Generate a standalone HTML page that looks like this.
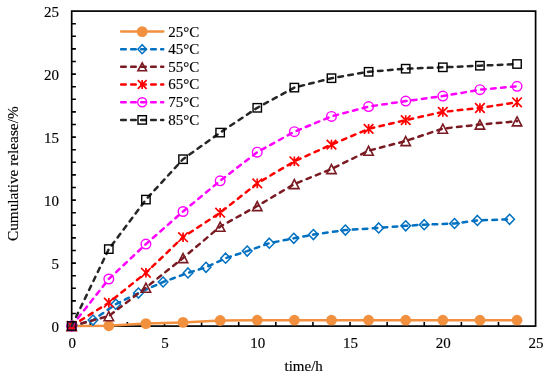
<!DOCTYPE html>
<html><head><meta charset="utf-8"><style>
html,body{margin:0;padding:0;background:#fff;}
svg{display:block;}
text{font-family:"Liberation Serif","Times New Roman",serif;font-size:15px;fill:#000;stroke:#000;stroke-width:0.15px;}
</style></head><body>
<svg width="550" height="377" viewBox="0 0 550 377">
<rect x="71.70" y="11.1" width="463.90" height="315.00" fill="none" stroke="#000" stroke-width="1.7"/>
<path d="M71.70 313.50h4.2 M71.70 300.90h4.2 M71.70 288.30h4.2 M71.70 275.70h4.2 M71.70 263.10h4.2 M71.70 250.50h4.2 M71.70 237.90h4.2 M71.70 225.30h4.2 M71.70 212.70h4.2 M71.70 200.10h4.2 M71.70 187.50h4.2 M71.70 174.90h4.2 M71.70 162.30h4.2 M71.70 149.70h4.2 M71.70 137.10h4.2 M71.70 124.50h4.2 M71.70 111.90h4.2 M71.70 99.30h4.2 M71.70 86.70h4.2 M71.70 74.10h4.2 M71.70 61.50h4.2 M71.70 48.90h4.2 M71.70 36.30h4.2 M71.70 23.70h4.2 M90.26 326.10v-4 M108.81 326.10v-4 M127.37 326.10v-4 M145.92 326.10v-4 M164.48 326.10v-4 M183.04 326.10v-4 M201.59 326.10v-4 M220.15 326.10v-4 M238.70 326.10v-4 M257.26 326.10v-4 M275.82 326.10v-4 M294.37 326.10v-4 M312.93 326.10v-4 M331.48 326.10v-4 M350.04 326.10v-4 M368.60 326.10v-4 M387.15 326.10v-4 M405.71 326.10v-4 M424.26 326.10v-4 M442.82 326.10v-4 M461.38 326.10v-4 M479.93 326.10v-4 M498.49 326.10v-4 M517.04 326.10v-4" stroke="#000" stroke-width="1.6" fill="none"/>
<text x="59.1" y="331.50" text-anchor="end">0</text>
<text x="59.1" y="268.50" text-anchor="end">5</text>
<text x="59.1" y="205.50" text-anchor="end">10</text>
<text x="59.1" y="142.50" text-anchor="end">15</text>
<text x="59.1" y="79.50" text-anchor="end">20</text>
<text x="59.1" y="16.50" text-anchor="end">25</text>
<text x="72.20" y="348.30" text-anchor="middle">0</text>
<text x="164.98" y="348.30" text-anchor="middle">5</text>
<text x="257.76" y="348.30" text-anchor="middle">10</text>
<text x="350.54" y="348.30" text-anchor="middle">15</text>
<text x="443.32" y="348.30" text-anchor="middle">20</text>
<text x="536.10" y="348.30" text-anchor="middle">25</text>
<text x="303.7" y="371.2" text-anchor="middle">time/h</text>
<text transform="translate(18.2 173.7) rotate(-90)" text-anchor="middle" style="font-size:15.3px">Cumulative release/%</text>
<path d="M71.70 326.00 L108.81 325.80 L145.92 323.60 L183.04 322.40 L220.15 320.50 L257.26 320.20 L294.37 320.20 L331.48 320.20 L368.60 320.20 L405.71 320.20 L442.82 320.20 L479.93 320.20 L517.04 320.20" fill="none" stroke="#F1903F" stroke-width="2.5" stroke-linecap="round" stroke-linejoin="round"/>
<circle cx="71.70" cy="326.00" r="5.4" fill="#F1903F"/>
<circle cx="108.81" cy="325.80" r="5.4" fill="#F1903F"/>
<circle cx="145.92" cy="323.60" r="5.4" fill="#F1903F"/>
<circle cx="183.04" cy="322.40" r="5.4" fill="#F1903F"/>
<circle cx="220.15" cy="320.50" r="5.4" fill="#F1903F"/>
<circle cx="257.26" cy="320.20" r="5.4" fill="#F1903F"/>
<circle cx="294.37" cy="320.20" r="5.4" fill="#F1903F"/>
<circle cx="331.48" cy="320.20" r="5.4" fill="#F1903F"/>
<circle cx="368.60" cy="320.20" r="5.4" fill="#F1903F"/>
<circle cx="405.71" cy="320.20" r="5.4" fill="#F1903F"/>
<circle cx="442.82" cy="320.20" r="5.4" fill="#F1903F"/>
<circle cx="479.93" cy="320.20" r="5.4" fill="#F1903F"/>
<circle cx="517.04" cy="320.20" r="5.4" fill="#F1903F"/>
<path d="M71.70 326.00 L93.00 320.10 L115.80 304.20 L138.40 293.10 L163.10 282.00 L188.00 272.90 L206.00 267.30 L225.60 258.20 L247.20 251.10 L269.30 243.20 L293.80 238.30 L313.40 234.60 L345.40 230.10 L378.70 227.90 L405.70 225.80 L424.20 224.70 L454.50 223.50 L477.40 220.40 L509.60 219.30" fill="none" stroke="#0070C0" stroke-width="2.5" stroke-linecap="round" stroke-linejoin="round" stroke-dasharray="4.6 5.4"/>
<path d="M71.70 321.00L76.50 326.00L71.70 331.00L66.90 326.00Z" fill="none" stroke="#0070C0" stroke-width="1.5"/>
<path d="M93.00 315.10L97.80 320.10L93.00 325.10L88.20 320.10Z" fill="none" stroke="#0070C0" stroke-width="1.5"/>
<path d="M115.80 299.20L120.60 304.20L115.80 309.20L111.00 304.20Z" fill="none" stroke="#0070C0" stroke-width="1.5"/>
<path d="M138.40 288.10L143.20 293.10L138.40 298.10L133.60 293.10Z" fill="none" stroke="#0070C0" stroke-width="1.5"/>
<path d="M163.10 277.00L167.90 282.00L163.10 287.00L158.30 282.00Z" fill="none" stroke="#0070C0" stroke-width="1.5"/>
<path d="M188.00 267.90L192.80 272.90L188.00 277.90L183.20 272.90Z" fill="none" stroke="#0070C0" stroke-width="1.5"/>
<path d="M206.00 262.30L210.80 267.30L206.00 272.30L201.20 267.30Z" fill="none" stroke="#0070C0" stroke-width="1.5"/>
<path d="M225.60 253.20L230.40 258.20L225.60 263.20L220.80 258.20Z" fill="none" stroke="#0070C0" stroke-width="1.5"/>
<path d="M247.20 246.10L252.00 251.10L247.20 256.10L242.40 251.10Z" fill="none" stroke="#0070C0" stroke-width="1.5"/>
<path d="M269.30 238.20L274.10 243.20L269.30 248.20L264.50 243.20Z" fill="none" stroke="#0070C0" stroke-width="1.5"/>
<path d="M293.80 233.30L298.60 238.30L293.80 243.30L289.00 238.30Z" fill="none" stroke="#0070C0" stroke-width="1.5"/>
<path d="M313.40 229.60L318.20 234.60L313.40 239.60L308.60 234.60Z" fill="none" stroke="#0070C0" stroke-width="1.5"/>
<path d="M345.40 225.10L350.20 230.10L345.40 235.10L340.60 230.10Z" fill="none" stroke="#0070C0" stroke-width="1.5"/>
<path d="M378.70 222.90L383.50 227.90L378.70 232.90L373.90 227.90Z" fill="none" stroke="#0070C0" stroke-width="1.5"/>
<path d="M405.70 220.80L410.50 225.80L405.70 230.80L400.90 225.80Z" fill="none" stroke="#0070C0" stroke-width="1.5"/>
<path d="M424.20 219.70L429.00 224.70L424.20 229.70L419.40 224.70Z" fill="none" stroke="#0070C0" stroke-width="1.5"/>
<path d="M454.50 218.50L459.30 223.50L454.50 228.50L449.70 223.50Z" fill="none" stroke="#0070C0" stroke-width="1.5"/>
<path d="M477.40 215.40L482.20 220.40L477.40 225.40L472.60 220.40Z" fill="none" stroke="#0070C0" stroke-width="1.5"/>
<path d="M509.60 214.30L514.40 219.30L509.60 224.30L504.80 219.30Z" fill="none" stroke="#0070C0" stroke-width="1.5"/>
<path d="M71.70 326.00 L108.81 316.10 L145.92 287.60 L183.04 258.00 L220.15 226.60 L257.26 206.00 L294.37 184.00 L331.48 169.00 L368.60 150.70 L405.71 141.00 L442.82 128.60 L479.93 124.50 L517.04 121.30" fill="none" stroke="#7A1A22" stroke-width="2.5" stroke-linecap="round" stroke-linejoin="round" stroke-dasharray="4.6 5.4"/>
<path d="M71.70 321.60L76.40 330.60L67.00 330.60Z" fill="none" stroke="#7A1A22" stroke-width="1.6" stroke-linejoin="miter"/>
<path d="M108.81 311.70L113.51 320.70L104.11 320.70Z" fill="none" stroke="#7A1A22" stroke-width="1.6" stroke-linejoin="miter"/>
<path d="M145.92 283.20L150.62 292.20L141.22 292.20Z" fill="none" stroke="#7A1A22" stroke-width="1.6" stroke-linejoin="miter"/>
<path d="M183.04 253.60L187.74 262.60L178.34 262.60Z" fill="none" stroke="#7A1A22" stroke-width="1.6" stroke-linejoin="miter"/>
<path d="M220.15 222.20L224.85 231.20L215.45 231.20Z" fill="none" stroke="#7A1A22" stroke-width="1.6" stroke-linejoin="miter"/>
<path d="M257.26 201.60L261.96 210.60L252.56 210.60Z" fill="none" stroke="#7A1A22" stroke-width="1.6" stroke-linejoin="miter"/>
<path d="M294.37 179.60L299.07 188.60L289.67 188.60Z" fill="none" stroke="#7A1A22" stroke-width="1.6" stroke-linejoin="miter"/>
<path d="M331.48 164.60L336.18 173.60L326.78 173.60Z" fill="none" stroke="#7A1A22" stroke-width="1.6" stroke-linejoin="miter"/>
<path d="M368.60 146.30L373.30 155.30L363.90 155.30Z" fill="none" stroke="#7A1A22" stroke-width="1.6" stroke-linejoin="miter"/>
<path d="M405.71 136.60L410.41 145.60L401.01 145.60Z" fill="none" stroke="#7A1A22" stroke-width="1.6" stroke-linejoin="miter"/>
<path d="M442.82 124.20L447.52 133.20L438.12 133.20Z" fill="none" stroke="#7A1A22" stroke-width="1.6" stroke-linejoin="miter"/>
<path d="M479.93 120.10L484.63 129.10L475.23 129.10Z" fill="none" stroke="#7A1A22" stroke-width="1.6" stroke-linejoin="miter"/>
<path d="M517.04 116.90L521.74 125.90L512.34 125.90Z" fill="none" stroke="#7A1A22" stroke-width="1.6" stroke-linejoin="miter"/>
<path d="M71.70 326.00 L108.81 302.70 L145.92 272.80 L183.04 237.20 L220.15 212.70 L257.26 183.40 L294.37 161.30 L331.48 144.60 L368.60 128.90 L405.71 120.10 L442.82 111.90 L479.93 108.00 L517.04 102.30" fill="none" stroke="#FF0000" stroke-width="2.5" stroke-linecap="round" stroke-linejoin="round" stroke-dasharray="4.6 5.4"/>
<path d="M66.90 321.20L76.50 330.80M76.50 321.20L66.90 330.80M71.70 321.20L71.70 330.80" stroke="#FF0000" stroke-width="1.7" fill="none"/>
<path d="M104.01 297.90L113.61 307.50M113.61 297.90L104.01 307.50M108.81 297.90L108.81 307.50" stroke="#FF0000" stroke-width="1.7" fill="none"/>
<path d="M141.12 268.00L150.72 277.60M150.72 268.00L141.12 277.60M145.92 268.00L145.92 277.60" stroke="#FF0000" stroke-width="1.7" fill="none"/>
<path d="M178.24 232.40L187.84 242.00M187.84 232.40L178.24 242.00M183.04 232.40L183.04 242.00" stroke="#FF0000" stroke-width="1.7" fill="none"/>
<path d="M215.35 207.90L224.95 217.50M224.95 207.90L215.35 217.50M220.15 207.90L220.15 217.50" stroke="#FF0000" stroke-width="1.7" fill="none"/>
<path d="M252.46 178.60L262.06 188.20M262.06 178.60L252.46 188.20M257.26 178.60L257.26 188.20" stroke="#FF0000" stroke-width="1.7" fill="none"/>
<path d="M289.57 156.50L299.17 166.10M299.17 156.50L289.57 166.10M294.37 156.50L294.37 166.10" stroke="#FF0000" stroke-width="1.7" fill="none"/>
<path d="M326.68 139.80L336.28 149.40M336.28 139.80L326.68 149.40M331.48 139.80L331.48 149.40" stroke="#FF0000" stroke-width="1.7" fill="none"/>
<path d="M363.80 124.10L373.40 133.70M373.40 124.10L363.80 133.70M368.60 124.10L368.60 133.70" stroke="#FF0000" stroke-width="1.7" fill="none"/>
<path d="M400.91 115.30L410.51 124.90M410.51 115.30L400.91 124.90M405.71 115.30L405.71 124.90" stroke="#FF0000" stroke-width="1.7" fill="none"/>
<path d="M438.02 107.10L447.62 116.70M447.62 107.10L438.02 116.70M442.82 107.10L442.82 116.70" stroke="#FF0000" stroke-width="1.7" fill="none"/>
<path d="M475.13 103.20L484.73 112.80M484.73 103.20L475.13 112.80M479.93 103.20L479.93 112.80" stroke="#FF0000" stroke-width="1.7" fill="none"/>
<path d="M512.24 97.50L521.84 107.10M521.84 97.50L512.24 107.10M517.04 97.50L517.04 107.10" stroke="#FF0000" stroke-width="1.7" fill="none"/>
<path d="M71.70 326.00 L108.81 279.00 L145.92 244.10 L183.04 211.50 L220.15 180.80 L257.26 152.20 L294.37 131.70 L331.48 116.40 L368.60 106.60 L405.71 101.10 L442.82 96.10 L479.93 89.70 L517.04 86.30" fill="none" stroke="#FF00FF" stroke-width="2.5" stroke-linecap="round" stroke-linejoin="round" stroke-dasharray="4.6 5.4"/>
<circle cx="71.70" cy="326.00" r="4.8" fill="none" stroke="#FF00FF" stroke-width="1.4"/>
<circle cx="108.81" cy="279.00" r="4.8" fill="none" stroke="#FF00FF" stroke-width="1.4"/>
<circle cx="145.92" cy="244.10" r="4.8" fill="none" stroke="#FF00FF" stroke-width="1.4"/>
<circle cx="183.04" cy="211.50" r="4.8" fill="none" stroke="#FF00FF" stroke-width="1.4"/>
<circle cx="220.15" cy="180.80" r="4.8" fill="none" stroke="#FF00FF" stroke-width="1.4"/>
<circle cx="257.26" cy="152.20" r="4.8" fill="none" stroke="#FF00FF" stroke-width="1.4"/>
<circle cx="294.37" cy="131.70" r="4.8" fill="none" stroke="#FF00FF" stroke-width="1.4"/>
<circle cx="331.48" cy="116.40" r="4.8" fill="none" stroke="#FF00FF" stroke-width="1.4"/>
<circle cx="368.60" cy="106.60" r="4.8" fill="none" stroke="#FF00FF" stroke-width="1.4"/>
<circle cx="405.71" cy="101.10" r="4.8" fill="none" stroke="#FF00FF" stroke-width="1.4"/>
<circle cx="442.82" cy="96.10" r="4.8" fill="none" stroke="#FF00FF" stroke-width="1.4"/>
<circle cx="479.93" cy="89.70" r="4.8" fill="none" stroke="#FF00FF" stroke-width="1.4"/>
<circle cx="517.04" cy="86.30" r="4.8" fill="none" stroke="#FF00FF" stroke-width="1.4"/>
<path d="M71.70 326.00 L108.81 249.10 L145.92 199.60 L183.04 159.20 L220.15 132.60 L257.26 107.80 L294.37 87.60 L331.48 78.20 L368.60 71.80 L405.71 68.70 L442.82 67.30 L479.93 65.70 L517.04 64.00" fill="none" stroke="#262626" stroke-width="2.5" stroke-linecap="round" stroke-linejoin="round" stroke-dasharray="4.6 5.4"/>
<rect x="67.50" y="321.80" width="8.40" height="8.40" fill="none" stroke="#000" stroke-width="1.4"/>
<rect x="104.61" y="244.90" width="8.40" height="8.40" fill="none" stroke="#000" stroke-width="1.4"/>
<rect x="141.72" y="195.40" width="8.40" height="8.40" fill="none" stroke="#000" stroke-width="1.4"/>
<rect x="178.84" y="155.00" width="8.40" height="8.40" fill="none" stroke="#000" stroke-width="1.4"/>
<rect x="215.95" y="128.40" width="8.40" height="8.40" fill="none" stroke="#000" stroke-width="1.4"/>
<rect x="253.06" y="103.60" width="8.40" height="8.40" fill="none" stroke="#000" stroke-width="1.4"/>
<rect x="290.17" y="83.40" width="8.40" height="8.40" fill="none" stroke="#000" stroke-width="1.4"/>
<rect x="327.28" y="74.00" width="8.40" height="8.40" fill="none" stroke="#000" stroke-width="1.4"/>
<rect x="364.40" y="67.60" width="8.40" height="8.40" fill="none" stroke="#000" stroke-width="1.4"/>
<rect x="401.51" y="64.50" width="8.40" height="8.40" fill="none" stroke="#000" stroke-width="1.4"/>
<rect x="438.62" y="63.10" width="8.40" height="8.40" fill="none" stroke="#000" stroke-width="1.4"/>
<rect x="475.73" y="61.50" width="8.40" height="8.40" fill="none" stroke="#000" stroke-width="1.4"/>
<rect x="512.84" y="59.80" width="8.40" height="8.40" fill="none" stroke="#000" stroke-width="1.4"/>
<path d="M121.15 31.60H163.25" fill="none" stroke="#F1903F" stroke-width="2.5" stroke-linecap="round"/>
<circle cx="142.20" cy="31.60" r="5.4" fill="#F1903F"/>
<text x="168.2" y="36.50">25°C</text>
<path d="M121.15 49.20H163.25" fill="none" stroke="#0070C0" stroke-width="2.5" stroke-linecap="round" stroke-dasharray="4.6 5.4"/>
<path d="M142.20 44.70L146.50 49.20L142.20 53.70L137.90 49.20Z" fill="none" stroke="#0070C0" stroke-width="1.5"/>
<text x="168.2" y="54.10">45°C</text>
<path d="M121.15 66.80H163.25" fill="none" stroke="#7A1A22" stroke-width="2.5" stroke-linecap="round" stroke-dasharray="4.6 5.4"/>
<path d="M142.20 62.90L146.50 70.80L137.90 70.80Z" fill="none" stroke="#7A1A22" stroke-width="1.6" stroke-linejoin="miter"/>
<text x="168.2" y="71.70">55°C</text>
<path d="M121.15 84.50H163.25" fill="none" stroke="#FF0000" stroke-width="2.5" stroke-linecap="round" stroke-dasharray="4.6 5.4"/>
<path d="M137.80 80.10L146.60 88.90M146.60 80.10L137.80 88.90M142.20 80.10L142.20 88.90" stroke="#FF0000" stroke-width="1.7" fill="none"/>
<text x="168.2" y="89.40">65°C</text>
<path d="M121.15 102.20H163.25" fill="none" stroke="#FF00FF" stroke-width="2.5" stroke-linecap="round" stroke-dasharray="4.6 5.4"/>
<circle cx="142.20" cy="102.20" r="4.5" fill="none" stroke="#FF00FF" stroke-width="1.4"/>
<text x="168.2" y="107.10">75°C</text>
<path d="M121.15 119.90H163.25" fill="none" stroke="#262626" stroke-width="2.5" stroke-linecap="round" stroke-dasharray="4.6 5.4"/>
<rect x="138.00" y="115.70" width="8.40" height="8.40" fill="none" stroke="#000" stroke-width="1.4"/>
<text x="168.2" y="124.80">85°C</text>
</svg>
</body></html>
